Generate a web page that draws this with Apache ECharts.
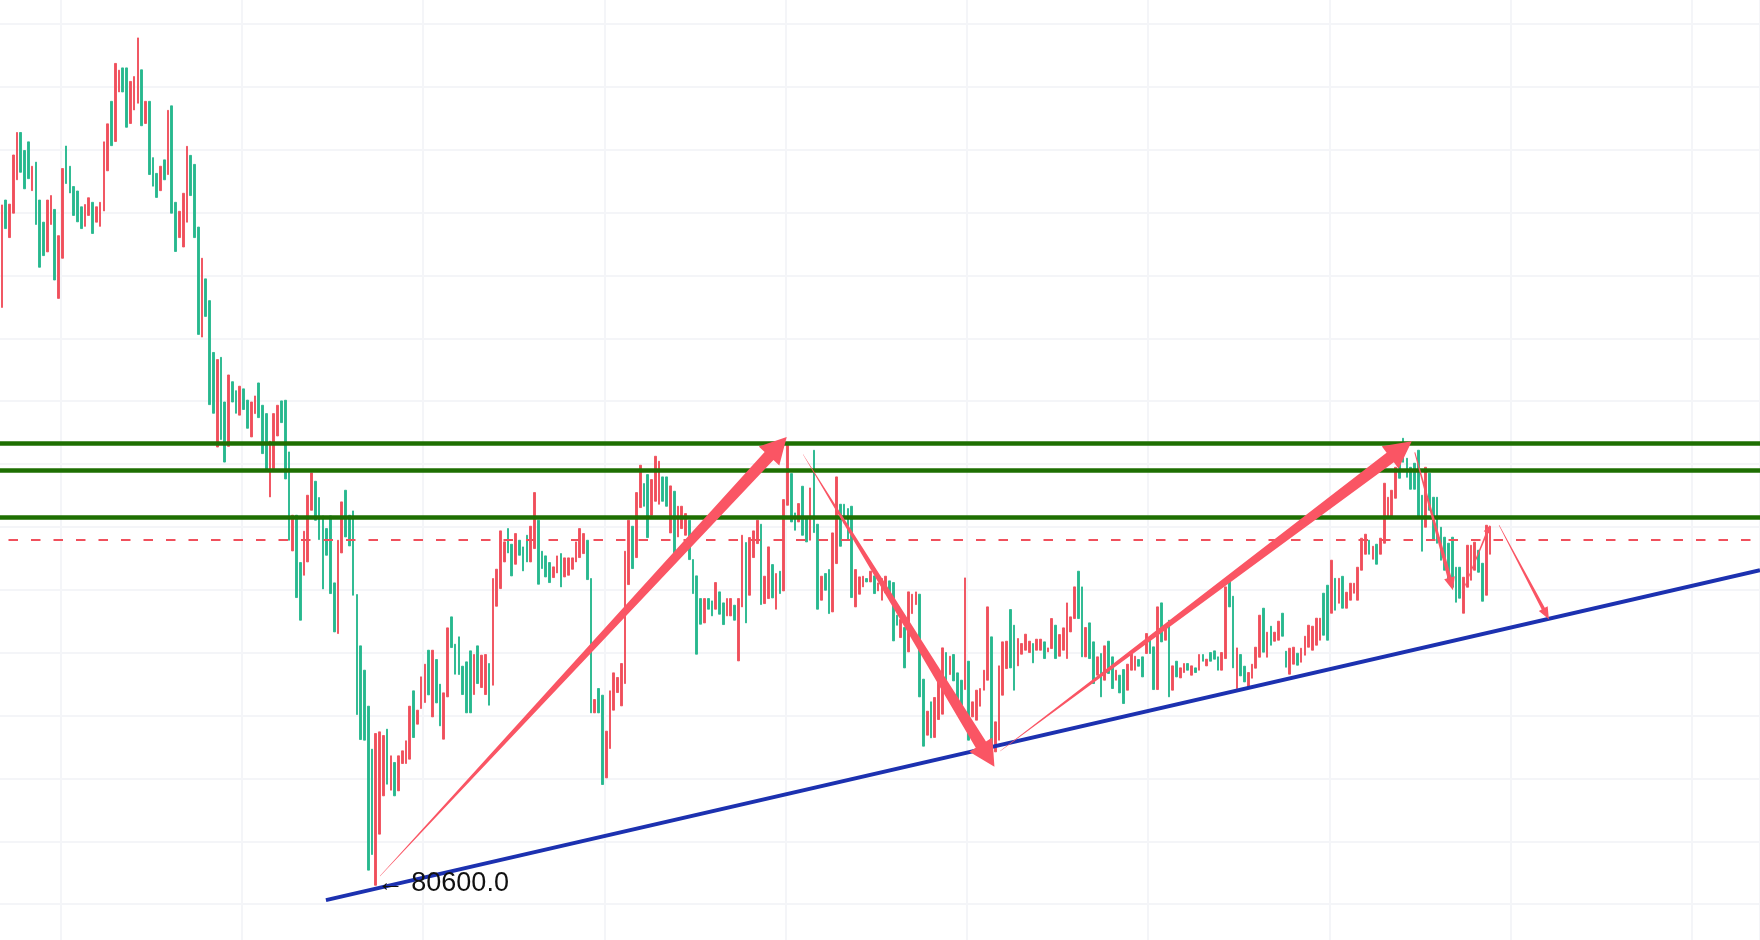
<!DOCTYPE html>
<html>
<head>
<meta charset="utf-8">
<script src="https://cdn.jsdelivr.net/npm/echarts@6/dist/echarts.min.js"></script>
<style>
html,body{margin:0;padding:0;background:#fff;width:1760px;height:940px;overflow:hidden;position:relative;}
#chart{position:absolute;left:0;top:-39px;width:1760px;height:1006px;}
</style>
</head>
<body>
<div id="chart"></div>
<script>
// ---------------- DATA ----------------
const slotCount = 466; // hourly slots on the time axis (incl. empty future slots)
const categories = Array.from({length: slotCount}, (_, i) => 'H' + i);

const openPx = [
98981,102396,101202,101978,103041,104545,103972,104247,102695,103602,
102396,101692,100748,101620,102098,99268,100545,104115,103471,102826,
102683,102181,101560,101907,102324,101692,101560,102050,103327,105536,
104259,105835,106599,106599,104832,105262,105477,106539,104832,105536,
103745,103244,102695,103674,103208,105393,102324,101202,100904,101692,
103817,103530,101536,98038,99889,99196,97548,94540,97393,95972,
94563,96617,96331,95554,96390,96032,94862,95603,96578,95868,
95603,92953,93854,94893,96006,96027,94384,91236,92370,90865,
90462,90886,92529,93451,92932,92349,91946,92349,90218,88607,
91172,93165,92370,92508,89847,88215,87441,86296,84929,80600,
82226,83445,85565,83625,84505,83604,84473,84473,84611,86784,
85724,86222,86413,88077,85957,87780,86996,85247,86593,89137,
88268,88501,87568,87706,88056,86667,88215,86890,86667,87653,
86964,89476,90038,90886,91946,91448,90812,91575,91363,91734,
90886,91310,92211,91225,91077,90865,90388,90536,91151,90409,
90462,90653,90886,91024,91151,91575,90356,86084,86858,86646,
84017,84950,86169,86731,86307,87017,90165,92020,91024,92614,
93377,93663,92370,92815,92720,93589,93589,91808,93133,91681,
91946,91734,92211,90960,90441,89720,88946,89720,89646,89381,
89932,89582,89169,89169,89508,87738,89455,91501,89826,91024,
91469,92084,89561,89720,90801,89381,90589,89964,92688,93695,
92444,92158,93292,92317,91575,94437,92084,89667,90515,90642,
89296,90833,92720,92720,92582,92656,89455,89858,90091,90356,
90250,90441,89964,89667,89900,90282,90229,89190,88480,88798,
88024,89243,89529,89858,87155,85374,86434,85303,85872,86042,
88003,87303,87939,87356,87123,86826,87727,85957,85851,86296,
86805,87123,88501,84844,85215,86646,87494,89370,88872,87579,
87950,88077,88003,88289,88077,88077,88342,88024,88130,88872,
87886,88077,87812,88660,89084,90589,90091,87865,88946,88342,
87282,87971,87123,88363,87865,87123,87282,87462,86805,87441,
87441,87780,87865,87971,88416,88183,86826,89582,88395,89031,
86805,87727,87197,87367,87653,87282,87515,87441,87939,87579,
88003,88056,87865,87441,87812,90409,89794,86858,87939,87568,
86858,87187,87505,87854,89413,87854,88840,88363,88395,89253,
88045,87314,87632,87981,87695,87918,88172,88077,88236,88395,
89890,90144,89253,90363,89571,90427,89413,89667,89890,89667,
90621,91130,91575,90971,91448,91130,91480,92306,92338,92911,
94119,94819,94183,93896,94024,94437,93006,91989,93706,92942,
92942,91989,91671,91480,91671,90716,90716,89253,90081,90303,
90621,91257,90843,89826,91130
];
const closePx = [
102241,101489,102265,103829,104545,103280,102754,103077,103471,101620,
100259,100629,102396,102539,99853,101262,103399,102921,102623,101907,
101704,101489,102253,102468,101333,102181,102324,104247,104820,104127,
106742,106527,105835,104712,106169,106324,107554,104760,105536,103208,
102838,102480,103471,103041,105250,101978,100760,102038,102611,104104,
102539,101202,98122,100545,98695,95889,95614,97322,94778,94062,
96832,95972,95614,96474,95734,95137,95972,96165,95476,94331,
93822,94723,95603,95868,95317,93525,91575,92370,89752,89031,
91861,93006,93716,92211,91596,90027,91098,89879,88660,91575,
92794,91681,91395,89826,86031,85236,85215,81081,81579,85427,
85480,85363,83816,84717,83445,84717,84876,85194,86296,85300,
86169,87229,87632,86657,88077,86402,85671,86720,88787,88162,
87314,87303,86667,86085,86085,87939,87017,87918,87939,86328,
90356,90653,91872,91522,91172,90441,91787,91098,90600,90886,
92020,93091,90176,90674,90409,90229,90727,91077,90091,91013,
91013,91013,91522,91946,91787,90324,86084,86508,86084,83805,
85501,86784,87356,87209,87653,91225,92211,90674,93091,93960,
92656,91660,93504,94246,94087,92815,92656,93303,91151,92656,
92656,92423,90960,89879,87950,88904,89720,89381,89169,90229,
89222,88893,89720,89720,89031,89720,91734,88946,91660,91872,
92211,89529,90430,91363,89741,90515,89879,92868,94596,92158,
91893,92741,91734,91522,93239,91819,89381,90430,89985,89243,
91808,93589,91384,92126,91575,89752,90642,90409,90430,90250,
90589,89879,90218,90356,90430,89752,88374,88872,89052,87515,
89932,89858,89932,86593,85024,86137,85289,86573,87123,88151,
87123,87886,87102,86487,86328,90377,85215,86434,86805,86858,
87441,89455,85056,85798,87579,88342,88363,87515,86805,88448,
88289,88586,88363,87674,88427,88427,87812,88151,89084,87812,
88575,88787,89582,89137,90091,89084,87865,88798,87812,87017,
87865,86593,88215,87335,86858,87441,86720,86381,87632,88003,
87886,87568,87229,88607,87971,86826,89455,88342,88872,86593,
87579,87229,87515,87653,87441,87579,87367,87939,87727,87791,
87727,87791,87441,88003,90091,89455,87515,88151,87261,87070,
87367,87632,88172,89190,88014,88650,88236,88650,88999,88522,
87536,88140,88172,87600,88140,88522,88872,88840,89095,89095,
88554,88395,90939,89349,90363,89413,89921,90207,90207,90716,
91639,91766,91130,91384,90812,91639,93388,92942,93165,93896,
93547,94056,93578,93197,93197,92306,91226,93896,92529,91575,
91480,90939,90621,90303,90081,89603,89731,90398,91416,91416,
91512,90557,89635,92052,92020
];

// horizontal levels
const resistanceLevels = [94660, 93800, 92300];
const referenceLevel = 91575;
// low marker: [slot index, price]
const lowMark = [99, 80600];
// trend line: [slot, price] pairs
const trendLine = [[85.8, 80127], [465.5, 90621]];
// arrows: from / to in [slot, price]
const arrowFrom = [[100.1, 80890], [212.1, 94310], [264.3, 84865], [374.1, 94373], [386.6, 89890], [396.4, 92052]];
const arrowTo   = [[207.8, 94860], [262.8, 84369], [373.3, 94723], [384.2, 89985], [394.0, 92052], [409.6, 89063]];

// ---------------- STYLE ----------------
const UP = '#ef4f5b', DOWN = '#27b88e';
const ARROW = '#fa5564';
const arrowSizes = [
  {tail: 0.3, shaft: 12, head: 26, headW: 28},
  {tail: 0.3, shaft: 12, head: 26, headW: 27},
  {tail: 0.3, shaft: 12, head: 27, headW: 28},
  {tail: 1, shaft: 4, head: 13, headW: 11},
  {tail: 0.5, shaft: 1.8, head: 8, headW: 7},
  {tail: 0.5, shaft: 3.5, head: 12, headW: 10}
];

const candles = openPx.map((o, i) => {
  const c = closePx[i];
  return [o, c, Math.min(o, c), Math.max(o, c)];
});

const arrowData = arrowFrom.map((f, i) => [f[0], f[1], arrowTo[i][0], arrowTo[i][1]]);

const chart = echarts.init(document.getElementById('chart'), null, {renderer: 'canvas'});

const option = {
  animation: false,
  backgroundColor: '#ffffff',
  grid: {left: 0, right: 0, top: 0, bottom: 0, containLabel: false},
  xAxis: [
    {
      type: 'category', data: categories, boundaryGap: true,
      axisLine: {show: false}, axisTick: {show: false}, axisLabel: {show: false},
      splitLine: {show: true, interval: (idx) => idx % 48 === 16,
        lineStyle: {color: '#f4f5f8', width: 2}}
    },
    {type: 'value', min: -0.5, max: slotCount - 0.5, show: false}
  ],
  yAxis: {
    type: 'value', min: 78000, max: 110000, interval: 2000,
    axisLine: {show: false}, axisTick: {show: false}, axisLabel: {show: false},
    splitLine: {show: true, lineStyle: {color: '#f4f5f8', width: 2}}
  },
  series: [
    {
      type: 'candlestick', xAxisIndex: 0, yAxisIndex: 0,
      data: candles, barWidth: 2.2, z: 2,
      itemStyle: {color: UP, color0: DOWN, borderColor: UP, borderColor0: DOWN, borderWidth: 0.9},
      markLine: {
        silent: true, symbol: 'none', animation: false,
        label: {show: false},
        data: [
          ...resistanceLevels.map(v => ({yAxis: v, lineStyle: {color: '#1e6f02', width: 4.5, type: 'solid'}})),
          {yAxis: referenceLevel, lineStyle: {color: '#f0505c', width: 2, type: [9.5, 13], dashOffset: 14}}
        ]
      }
    },
    {
      type: 'line', xAxisIndex: 1, yAxisIndex: 0, data: trendLine,
      symbol: 'none', z: 4, silent: true,
      lineStyle: {color: '#1c31b0', width: 4}
    },
    {
      type: 'custom', xAxisIndex: 1, yAxisIndex: 0, z: 5, silent: true,
      data: arrowData,
      encode: {x: [0, 2], y: [1, 3]},
      renderItem: (params, api) => {
        const p0 = api.coord([api.value(0), api.value(1)]);
        const p1 = api.coord([api.value(2), api.value(3)]);
        const sz = arrowSizes[params.dataIndex];
        const dx = p1[0] - p0[0], dy = p1[1] - p0[1];
        const len = Math.hypot(dx, dy);
        const ux = dx / len, uy = dy / len;
        const nx = -uy, ny = ux;
        const hb = [p1[0] - ux * sz.head, p1[1] - uy * sz.head];
        const w0 = sz.tail / 2, w1 = sz.shaft / 2, hw = sz.headW / 2;
        const pts = [
          [p0[0] + nx * w0, p0[1] + ny * w0],
          [hb[0] + nx * w1, hb[1] + ny * w1],
          [hb[0] + nx * hw, hb[1] + ny * hw],
          p1,
          [hb[0] - nx * hw, hb[1] - ny * hw],
          [hb[0] - nx * w1, hb[1] - ny * w1],
          [p0[0] - nx * w0, p0[1] - ny * w0]
        ];
        return {type: 'polygon', shape: {points: pts}, style: {fill: ARROW}};
      }
    },
    {
      type: 'custom', xAxisIndex: 0, yAxisIndex: 0, z: 6, silent: true,
      data: [lowMark],
      renderItem: (params, api) => {
        const p = api.coord([api.value(0), api.value(1)]);
        return {
          type: 'text',
          x: p[0] + 1, y: p[1] - 2,
          style: {
            text: '\u2190 ' + api.value(1).toFixed(1),
            fill: '#111111',
            font: '27px "Liberation Sans", Arial, sans-serif',
            textAlign: 'left', textVerticalAlign: 'middle'
          }
        };
      }
    }
  ]
};
chart.setOption(option);
</script>
</body>
</html>
